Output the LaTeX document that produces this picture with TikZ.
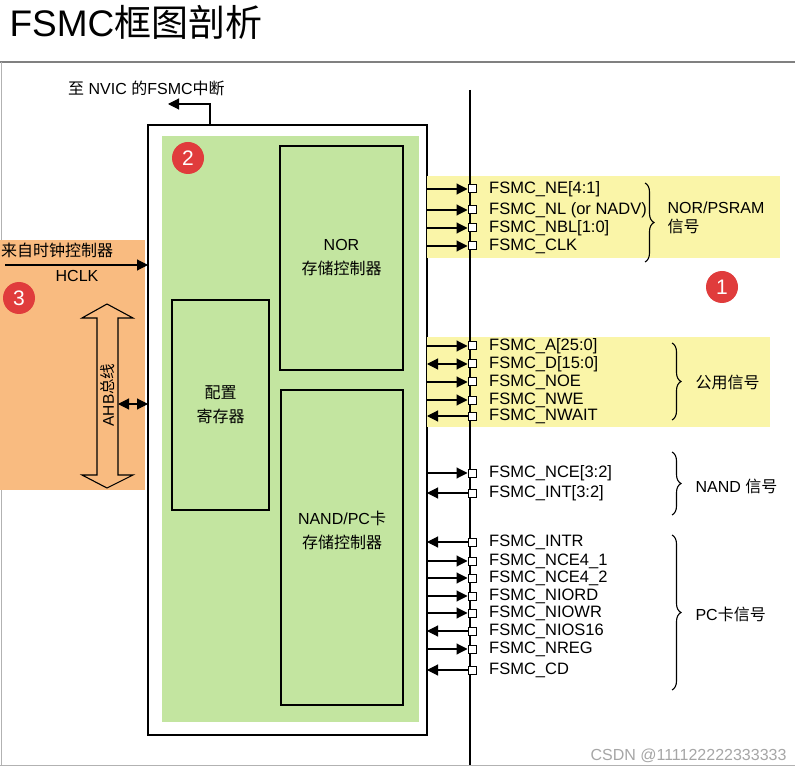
\documentclass[tikz,border=0pt]{standalone}
\usepackage{fontspec}
\setmainfont{Liberation Sans}
\newfontfamily\cjk{Noto Sans CJK SC}
\usetikzlibrary{arrows.meta,decorations.pathreplacing}
\newcommand{\cj}[1]{{\cjk #1}}
\definecolor{org}{HTML}{F9BB80}
\definecolor{grn}{HTML}{C3E5A0}
\definecolor{ylw}{HTML}{FAF5A8}
\definecolor{red1}{HTML}{E03C3C}
\begin{document}
\begin{tikzpicture}[x=1pt,y=-1pt,
  sig/.style={font=\fontsize{16.5}{18}\selectfont,anchor=west,inner sep=0pt},
  pin/.style={draw,fill=white,minimum size=8pt,inner sep=0pt,line width=1pt},
  tip/.style={-{Triangle[length=11pt,width=11pt]},line width=1.1pt},
  btip/.style={{Triangle[length=11pt,width=11pt]}-{Triangle[length=11pt,width=11pt]},line width=1.1pt},
  blk/.style={draw,line width=1.1pt},
  badge/.style={circle,fill=red1,text=white,minimum size=32pt,inner sep=0pt,font=\fontsize{21}{21}\selectfont},
  lab/.style={font=\fontsize{16}{19}\selectfont,align=left,anchor=west},
  br/.style={decorate,decoration={brace,amplitude=9pt},line width=1.1pt}]
\useasboundingbox (0,0) rectangle (795,775);
\fill[white] (0,0) rectangle (795,775);
\node[anchor=west,font=\fontsize{37}{40}\selectfont] (title) at (6,22) {FSMC\cj{框图剖析}};
\draw[gray,line width=1.2pt] (0,62) -- (795,62);
\draw[gray!60,line width=1pt] (0,765) -- (795,765);
\draw[gray!60] (1,62) -- (1,765);
\fill[org] (0,240) rectangle (145,490);
\draw[blk,fill=white] (148,125) rectangle (427,735);
\fill[grn] (162,136) rectangle (419,722);
\node[blk,minimum width=123pt,minimum height=224pt,align=center,font=\fontsize{16}{24}\selectfont] (nor) at (341.5,258) {NOR\\\cj{存储控制器}};
\node[blk,minimum width=97pt,minimum height=210pt,align=center,font=\fontsize{16}{24}\selectfont] (cfg) at (220.5,405) {\cj{配置}\\\cj{寄存器}};
\node[blk,minimum width=122pt,minimum height=315pt] (nand) at (342,547.5) {};
\node[align=center,font=\fontsize{16}{24}\selectfont] (nandt) at (342,530) {NAND/PC\cj{卡}\\\cj{存储控制器}};
\fill[ylw] (427,176) rectangle (780,258);
\fill[ylw] (427,337) rectangle (770,427);
\coordinate (bt) at (470,90);
\coordinate (bb) at (470,765);
\draw[line width=1.2pt] (bt) -- (bb);
\coordinate (nv0) at (210,125);
\coordinate (nv1) at (210,104);
\coordinate (nv2) at (168,104);
\draw[tip] (nv0) -- (nv1) -- (nv2);
\node[anchor=west,font=\fontsize{16}{18}\selectfont,inner sep=0pt] (nvic) at (68,88) {\cj{至} NVIC \cj{的}FSMC\cj{中断}};
\node[anchor=west,font=\fontsize{16}{18}\selectfont,inner sep=0pt] (clk) at (1,250) {\cj{来自时钟控制器}};
\coordinate (h0) at (5,265);
\coordinate (h1) at (148,265);
\draw[tip] (h0) -- (h1);
\node[font=\fontsize{16}{18}\selectfont] (hclk) at (77,276) {HCLK};
\node[badge] (b3) at (19,298) {3};
\node[badge] (b2) at (188,158) {2};
\node[badge] (b1) at (722,287) {1};
\draw[line width=1.1pt,fill=org] (107,304) -- (133,318) -- (118,318) -- (118,475) -- (133,475) -- (107,488) -- (82,475) -- (97,475) -- (97,318) -- (82,318) -- cycle;
\node[rotate=90,font=\fontsize{15.5}{17}\selectfont] (ahb) at (108,395) {AHB\cj{总线}};
\coordinate (a0) at (118,404);
\coordinate (a1) at (148,404);
\draw[btip] (a0) -- (a1);
\foreach \y/\t/\d [count=\i] in {
189/{FSMC\_NE[4:1]}/r, 210/{FSMC\_NL (or NADV)}/r, 228/{FSMC\_NBL[1:0]}/r, 246/{FSMC\_CLK}/r,
346/{FSMC\_A[25:0]}/r, 364/{FSMC\_D[15:0]}/b, 382/{FSMC\_NOE}/r, 400/{FSMC\_NWE}/r, 416/{FSMC\_NWAIT}/l,
473/{FSMC\_NCE[3:2]}/r, 493/{FSMC\_INT[3:2]}/l,
542/{FSMC\_INTR}/l, 561/{FSMC\_NCE4\_1}/r, 578/{FSMC\_NCE4\_2}/r, 596/{FSMC\_NIORD}/r, 613/{FSMC\_NIOWR}/r, 631/{FSMC\_NIOS16}/l, 649/{FSMC\_NREG}/r, 670/{FSMC\_CD}/l}{
  \node[pin] (p\i) at (472,\y) {};
  \coordinate (s\i) at (427,\y);
  \node[sig] (t\i) at (489,\y) {\t};
  \if r\d \draw[tip] (s\i) -- (p\i.west); \fi
  \if l\d \draw[tip] (p\i.west) -- (s\i); \fi
  \if b\d \draw[btip] (s\i) -- (p\i.west); \fi
}
\draw[br] (645,183) -- (645,262);
\node[lab] (g1) at (664,218) {NOR/PSRAM\\\cj{信号}};
\draw[br] (672,343) -- (672,420);
\node[lab] (g2) at (692,382) {\cj{公用信号}};
\draw[br] (672,452) -- (672,515);
\node[lab] (g3) at (692,486) {NAND \cj{信号}};
\draw[br] (672,535) -- (672,690);
\node[lab] (g4) at (692,614) {PC\cj{卡信号}};
\node[anchor=east,text=gray!70,font=\fontsize{16}{18}\selectfont] (wm) at (790,756) {CSDN @111122222333333};
\end{tikzpicture}
\end{document}
